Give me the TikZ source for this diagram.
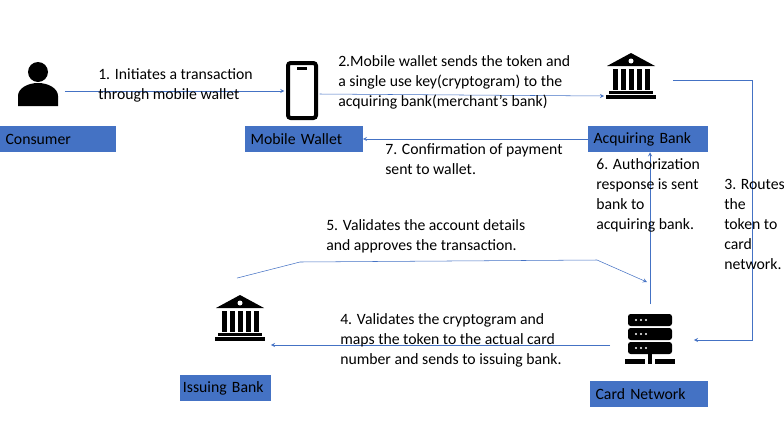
\documentclass[tikz,border=0pt]{standalone}
\usepackage{fontspec}
\setmainfont{Carlito}
\usetikzlibrary{positioning,calc}
\definecolor{boxblue}{HTML}{4472C4}
\begin{document}
\begin{tikzpicture}[x=0.75pt,y=-0.75pt,font=\fontsize{11.8pt}{15pt}\selectfont]
    \tikzstyle{edge}  = [draw=boxblue,thin]
    \tikzstyle{dedge} = [draw=boxblue,thin,->,>=stealth]
    \tikzstyle{lbl}=[
      fill=boxblue,
      anchor=west,
      align=left,
      minimum height=19.5pt,
      inner xsep=4pt,
    ]
    \tikzstyle{txt}=[anchor=north west,align=left,inner sep=0pt]
    \useasboundingbox (0,0) rectangle (784,425);

    % labels
    \node[lbl,text width=79pt] (lConsumer) at (0,139) {Consumer};
    \node[lbl,text width=80pt] (lWallet) at (245,139) {Mobile Wallet};
    \node[lbl,text width=82pt] (lAcq) at (588,139) {Acquiring Bank};
    \node[lbl,text width=64pt,inner xsep=2pt] (lIssuing) at (180,388) {Issuing Bank};
    \node[lbl,text width=80pt] (lCard) at (590,394) {Card Network};

    % icons
    \node[inner sep=0pt,minimum size=40pt] (iConsumer) at (38,83) {};
    \fill (38,72) circle (10);
    \fill (18,106) -- (18,96) arc (180:360:20 and 13) -- (58,106) -- cycle;
    \node[inner sep=0pt,minimum width=26pt,minimum height=46pt] (iWallet) at (302,90) {};
    \draw[line width=3pt,rounded corners=2pt] (288,63) rectangle (316,118);
    \fill (297,67) rectangle (307,70);
    \foreach \nm/\cx/\cy in {iAcq/631/78,iIssuing/240/320}{
      \node[inner sep=0pt,minimum size=40pt] (\nm) at (\cx,\cy) {};
      \fill (\cx-24,\cy-12) -- (\cx,\cy-25) -- (\cx+24,\cy-12) -- cycle;
      \fill[white] (\cx,\cy-17) circle (2.5);
      \foreach \i in {-16,-8,0,8,16}
        \fill (\cx+\i-2.5,\cy-9) rectangle (\cx+\i+2.5,\cy+12);
      \fill (\cx-22,\cy+13) rectangle (\cx+22,\cy+16);
      \fill (\cx-25,\cy+17) rectangle (\cx+25,\cy+21);
    }
    \node[inner sep=0pt,minimum width=40pt,minimum height=46pt] (iCard) at (650,335) {};
    \foreach \y in {320,334,348}{
      \fill[rounded corners=2pt] (628,\y-6) rectangle (672,\y+6);
      \foreach \x in {636,641,646} \fill[white] (\x,\y) circle (1.1);
    }
    \fill (648,354) rectangle (652,362);
    \fill (625,359) rectangle (645,364);
    \fill (648,359) rectangle (652,364);
    \fill (655,359) rectangle (675,364);

    % connectors
    \draw[dedge] ($(iConsumer.east)+(0,8)$)--($(iWallet.west)+(0,1)$);
    \draw[dedge] ($(iWallet.east)+(0,4)$)--($(iAcq.west)+(0,18)$);
    \draw[dedge] (lAcq.west)--(lWallet.east);
    \coordinate (cA) at (752,80);
    \coordinate (cB) at (752,340);
    \draw[dedge] ($(iAcq.east)+(15,2)$)--(cA)--(cB)--($(iCard.east)+(17,5)$);
    \draw[dedge] (iCard.north)--(lAcq.south-|iCard.north);
    \draw[dedge] ($(iCard.west)+(-13,10)$)--($(iIssuing.east)+(4,25)$);
    \coordinate (cC) at (300,262);
    \coordinate (cD) at (597,260);
    \draw[dedge] ($(iIssuing.north)+(-3,-15)$)--(cC)--(cD)--($(iCard.north)+(-3,-22)$);

    % texts
    \node[txt] (t1) at (98,68) {1. Initiates a transaction\\through mobile wallet};
    \node[txt] (t2) at (338,55) {2.Mobile wallet sends the token and\\a single use key(cryptogram) to the\\acquiring bank(merchant’s bank)};
    \node[txt] (t7) at (385,143) {7. Confirmation of payment\\sent to wallet.};
    \node[txt] (t6) at (596,158) {6. Authorization\\response is sent\\bank to\\acquiring bank.};
    \node[txt] (t3) at (724,179) {3. Routes\\the\\token to\\card\\network.};
    \node[txt] (t5) at (326,219) {5. Validates the account details\\and approves the transaction.};
    \node[txt] (t4) at (340,313) {4. Validates the cryptogram and\\maps the token to the actual card\\number and sends to issuing bank.};
\end{tikzpicture}
\end{document}
